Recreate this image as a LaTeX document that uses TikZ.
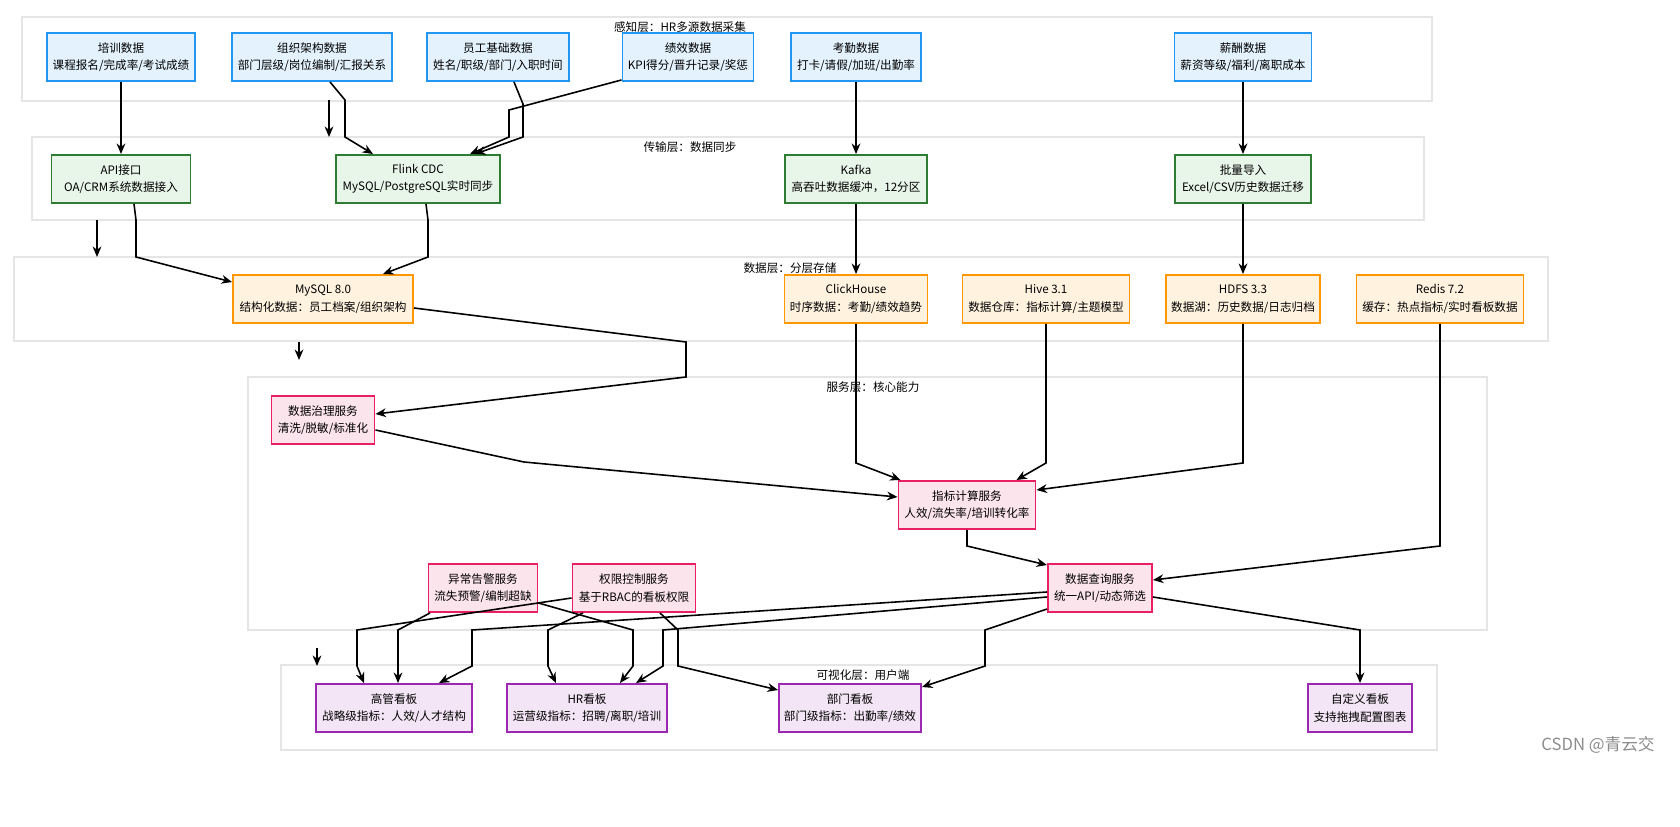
\documentclass[tikz,border=0pt]{standalone}
\usepackage{fontspec}
\setmainfont{Noto Sans CJK SC}
\usetikzlibrary{calc,arrows.meta}
\definecolor{inF}{HTML}{E3F2FD}\definecolor{inD}{HTML}{2196F3}
\definecolor{trF}{HTML}{E8F5E9}\definecolor{trD}{HTML}{2E7D32}
\definecolor{stF}{HTML}{FFF3E0}\definecolor{stD}{HTML}{FF9800}
\definecolor{svF}{HTML}{FCE4EC}\definecolor{svD}{HTML}{E91E63}
\definecolor{viF}{HTML}{F3E5F5}\definecolor{viD}{HTML}{9C27B0}
\begin{document}
\begin{tikzpicture}[x=0.02cm,y=-0.02cm,
  font=\fontsize{6.6}{10}\selectfont,
  box/.style={draw,line width=1.1pt,align=center,minimum height=0.96cm,inner sep=1pt},
  inp/.style={box,fill=inF,draw=inD},
  tr/.style={box,fill=trF,draw=trD},
  st/.style={box,fill=stF,draw=stD},
  sv/.style={box,fill=svF,draw=svD},
  vi/.style={box,fill=viF,draw=viD},
  grp/.style={draw=black!10,fill=white,line width=0.6pt},
  lay/.style={font=\fontsize{6.6}{8}\selectfont},
  ar/.style={-{Stealth[length=6pt,width=5pt]},line width=0.9pt,black}]
\useasboundingbox (0,0) rectangle (1680,827);
% groups
\draw[grp] (22,17) rectangle (1432,101);
\draw[grp] (32,137) rectangle (1424,220);
\draw[grp] (14,257) rectangle (1548,341);
\draw[grp] (248,377) rectangle (1487,630);
\draw[grp] (281,665) rectangle (1437,750);
\node[lay] (l1) at (680,27) {感知层：HR多源数据采集};
\node[lay] (l2) at (690,147) {传输层：数据同步};
\node[lay] (l3) at (790,268) {数据层：分层存储};
\node[lay] (l4) at (873,387) {服务层：核心能力};
\node[lay] (l5) at (863,675) {可视化层：用户端};
% row1
\node[inp,minimum width=148*0.02cm] (px) at (121,57) {培训数据\\课程报名/完成率/考试成绩};
\node[inp,minimum width=160*0.02cm] (zz) at (312,57) {组织架构数据\\部门层级/岗位编制/汇报关系};
\node[inp,minimum width=142*0.02cm] (yg) at (498,57) {员工基础数据\\姓名/职级/部门/入职时间};
\node[inp,minimum width=131*0.02cm] (jx) at (688,57) {绩效数据\\KPI得分/晋升记录/奖惩};
\node[inp,minimum width=130*0.02cm] (kq) at (856,57) {考勤数据\\打卡/请假/加班/出勤率};
\node[inp,minimum width=137*0.02cm] (xc) at (1243,57) {薪酬数据\\薪资等级/福利/离职成本};
% row2
\node[tr,minimum width=139*0.02cm] (api) at (121,179) {API接口\\OA/CRM系统数据接入};
\node[tr,minimum width=164*0.02cm] (fl) at (418,179) {Flink CDC\\MySQL/PostgreSQL实时同步};
\node[tr,minimum width=142*0.02cm] (kf) at (856,179) {Kafka\\高吞吐数据缓冲，12分区};
\node[tr,minimum width=136*0.02cm] (pl) at (1243,179) {批量导入\\Excel/CSV历史数据迁移};
% row3
\node[st,minimum width=180*0.02cm] (my) at (323,299) {MySQL 8.0\\结构化数据：员工档案/组织架构};
\node[st,minimum width=143*0.02cm] (ch) at (856,299) {ClickHouse\\时序数据：考勤/绩效趋势};
\node[st,minimum width=167*0.02cm] (hv) at (1046,299) {Hive 3.1\\数据仓库：指标计算/主题模型};
\node[st,minimum width=154*0.02cm] (hd) at (1243,299) {HDFS 3.3\\数据湖：历史数据/日志归档};
\node[st,minimum width=167*0.02cm] (rd) at (1440,299) {Redis 7.2\\缓存：热点指标/实时看板数据};
% services
\node[sv,minimum width=103*0.02cm] (zl) at (323,420) {数据治理服务\\清洗/脱敏/标准化};
\node[sv,minimum width=137*0.02cm] (zb) at (967,505) {指标计算服务\\人效/流失率/培训转化率};
\node[sv,minimum width=104*0.02cm] (cx) at (1100,588) {数据查询服务\\统一API/动态筛选};
\node[sv,minimum width=109*0.02cm] (yc) at (483,588) {异常告警服务\\流失预警/编制超缺};
\node[sv,minimum width=123*0.02cm] (qx) at (634,588) {权限控制服务\\基于RBAC的看板权限};
% vis
\node[vi,minimum width=156*0.02cm] (gg) at (394,708) {高管看板\\战略级指标：人效/人才结构};
\node[vi,minimum width=160*0.02cm] (hr) at (587,708) {HR看板\\运营级指标：招聘/离职/培训};
\node[vi,minimum width=142*0.02cm] (bm) at (850,708) {部门看板\\部门级指标：出勤率/绩效};
\node[vi,minimum width=104*0.02cm] (zd) at (1360,708) {自定义看板\\支持拖拽配置图表};
\node[text=black!45,font=\fontsize{9.5}{11}\selectfont] (wm) at (1598,745) {CSDN @青云交};
% stray arrows
\coordinate (s1a) at (329,100); \coordinate (s1b) at (329,137);
\coordinate (s2a) at (97,220); \coordinate (s2b) at (97,257);
\coordinate (s3a) at (299,342); \coordinate (s3b) at (299,360);
\coordinate (s4a) at (317,648); \coordinate (s4b) at (317,666);
\draw[ar] (s1a)--(s1b); \draw[ar] (s2a)--(s2b); \draw[ar] (s3a)--(s3b); \draw[ar] (s4a)--(s4b);
% edges
\draw[ar] (px)--(api);
\draw[ar] ($(zz.south)+(18,0)$)--(345,100)--(345,137)--($(fl.north)+(-45,0)$);
\draw[ar] ($(yg.south)+(16,0)$)--(523,104)--(523,137)--($(fl.north)+(57,0)$);
\draw[ar] ($(jx.south west)+(0,-2)$)--(509,110)--(509,137)--($(fl.north)+(52,0)$);
\draw[ar] (kq)--(kf); \draw[ar] (xc)--(pl);
\draw[ar] ($(api.south)+(13,0)$)--(136,220)--(136,257)--($(my.north west)+(0,8)$);
\draw[ar] ($(fl.south)+(8,0)$)--(428,220)--(428,257)--($(my.north)+(60,0)$);
\draw[ar] (kf)--(ch); \draw[ar] (pl)--(hd);
\draw[ar] ($(my.east)+(0,9)$)--(686,342)--(686,377)--($(zl.east)+(0,-6)$);
\draw[ar] (ch.south)--(856,463)--($(zb.north west)+(3,0)$);
\draw[ar] (hv.south)--(1046,463)--($(zb.north east)+(-20,0)$);
\draw[ar] (hd.south)--(1243,463)--($(zb.east)+(0,-15)$);
\draw[ar] ($(zl.east)+(0,10)$)--(524,462)--($(zb.west)+(0,-8)$);
\draw[ar] (rd.south)--(1440,546)--($(cx.east)+(0,-8)$);
\draw[ar] (zb.south)--(967,546)--($(cx.north west)+(0,2)$);
\draw[ar] ($(cx.west)+(0,4)$)--(472,630)--(472,666)--($(gg.north)+(45,0)$);
\draw[ar] ($(cx.west)+(0,9)$)--(663,630)--(663,666)--($(hr.north)+(49,0)$);
\draw[ar] ($(cx.west)+(0,21)$)--(985,630)--(985,666)--($(bm.north east)+(0,4)$);
\draw[ar] ($(cx.east)+(0,9)$)--(1360,630)--(zd.north);
\draw[ar] ($(yc.south)+(-53,0)$)--(398,630)--($(gg.north)+(4,0)$);
\draw[ar] ($(yc.east)+(0,15)$)--(633,630)--(633,666)--($(hr.north)+(33,0)$);
\draw[ar] ($(qx.west)+(0,10)$)--(357,630)--(357,666)--($(gg.north)+(-30,0)$);
\draw[ar] ($(qx.south)+(-51,0)$)--(548,630)--(548,666)--($(hr.north)+(-31,0)$);
\draw[ar] ($(qx.south)+(26,0)$)--(678,630)--(678,666)--($(bm.west)+(0,-18)$);
\end{tikzpicture}
\end{document}
